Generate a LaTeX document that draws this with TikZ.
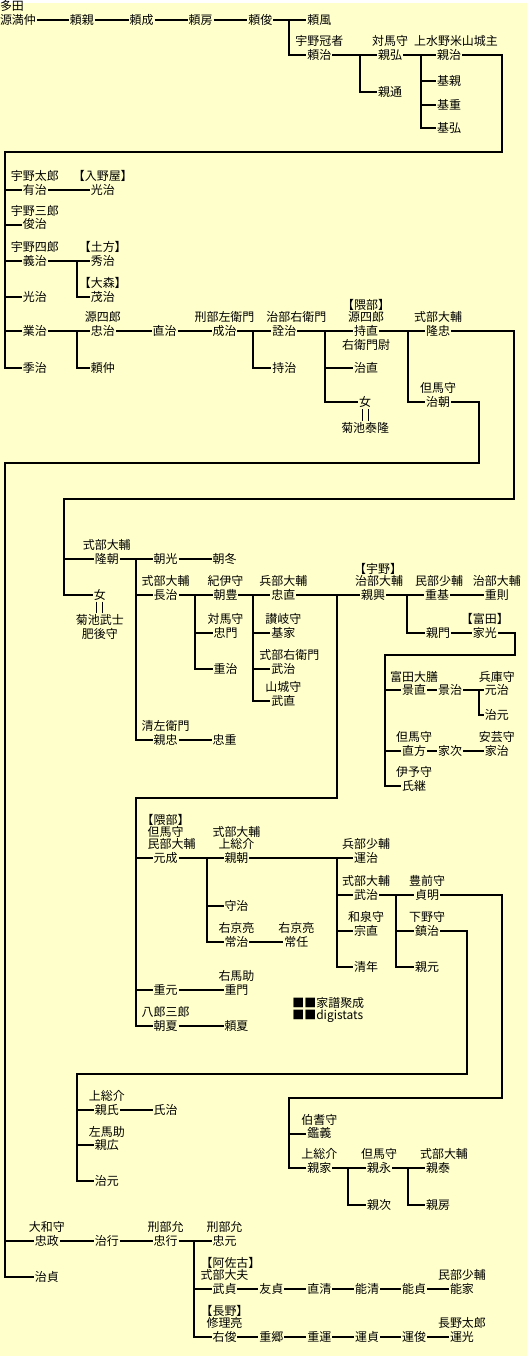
\documentclass[tikz,border=0pt]{standalone}
\usepackage{fontspec}
\setmainfont{Noto Sans CJK JP}
\usetikzlibrary{calc}
\definecolor{bgy}{HTML}{FFFFCC}
\newcommand\famln[3]{\draw (#1.east -| #2) |- (#3.west);}
\newcommand\twig[2]{\draw (#2.west -| #1) -- (#2.west);}
\begin{document}
\begin{tikzpicture}[x=1pt,y=-1pt,
  every node/.style={inner sep=0pt,text height=10.5pt,text depth=1.5pt,font=\fontsize{12pt}{12pt}\selectfont},
  every label/.style={inner sep=0pt,text height=10.5pt,text depth=1.5pt,font=\fontsize{12pt}{12pt}\selectfont},
  label distance=0pt,
  ln/.style={line width=2pt,line join=miter},
  dbl/.style={line width=0.9pt}]
\fill[bgy] (0,0) rectangle (528,1356);
\begin{scope}[ln]
% ---------- row 1
\node (a0) at (18,17) [label={[xshift=-6pt]above:多田}] {源満仲};
\node (a1) at (82,17) {頼親};
\node (a2) at (142,17) {頼成};
\node (a3) at (201,17) {頼房};
\node (a4) at (261,17) {頼俊};
\node (a5) at (320,17) {頼風};
\node (a6) at (320,52) [label=above:宇野冠者] {頼治};
\node (a7) at (391,52) [label=above:対馬守] {親弘};
\node (a8) at (391,89) {親通};
\node (a9) at (450,52) [label={[xshift=7pt]above:上水野米山城主}] {親治};
\node (a10) at (450,78) {基親};
\node (a11) at (450,102) {基重};
\node (a12) at (450,125) {基弘};
\coordinate (v290) at (290,0);
\coordinate (v361) at (361,0);
\coordinate (v422) at (422,0);
\draw (a0.east) -- (a1.west); \draw (a1.east) -- (a2.west);
\draw (a2.east) -- (a3.west); \draw (a3.east) -- (a4.west);
\draw (a4.east) -- (a5.west); \famln{a4}{v290}{a6}
\draw (a6.east) -- (a7.west); \famln{a6}{v361}{a8}
\draw (a7.east) -- (a9.west); \twig{v422}{a10}\twig{v422}{a11}\famln{a7}{v422}{a12}
% ---------- children of 親治
\node (c1) at (35,187) [label=above:宇野太郎] {有治};
\node (c2) at (103,187) [label=above:【入野屋】] {光治};
\node (c3) at (35,222) [label=above:宇野三郎] {俊治};
\node (c4) at (35,259) [label=above:宇野四郎] {義治};
\node (c5) at (103,259) [label=above:【土方】] {秀治};
\node (c6) at (103,295) [label=above:【大森】] {茂治};
\node (c7) at (35,295) {光治};
\node (c8) at (35,329) {業治};
\node (c9) at (103,329) [label=above:源四郎] {忠治};
\node (c10) at (103,366) {頼仲};
\node (c11) at (35,366) {季治};
\node (c12) at (165,329) {直治};
\node (c13) at (225,329) [label=above:刑部左衛門] {成治};
\node (c14) at (285,329) [label={[xshift=12pt]above:治部右衛門}] {詮治};
\node (c15) at (285,366) {持治};
\node (c16) at (367,329) [label=above:源四郎,label={[yshift=12pt]above:【隈部】},label=below:右衛門尉] {持直};
\node (c17) at (367,366) {治直};
\node (c18) at (366,400) {女};
\node (c19) at (366,426) {菊池泰隆};
\node (c20) at (439,329) [label=above:式部大輔] {隆忠};
\node (c21) at (439,400) [label=above:但馬守] {治朝};
\coordinate (R1a) at (503,149); \coordinate (R1b) at (5,149);
\draw (a9.east) -| (R1a) -- (R1b) |- (c11.west);
\twig{R1b}{c1}\twig{R1b}{c3}\twig{R1b}{c4}\twig{R1b}{c7}\twig{R1b}{c8}
\draw (c1.east) -- (c2.west);
\coordinate (v77) at (77,0);
\draw (c4.east) -- (c5.west); \famln{c4}{v77}{c6}
\draw (c8.east) -- (c9.west); \famln{c8}{v77}{c10}
\draw (c9.east) -- (c12.west); \draw (c12.east) -- (c13.west);
\coordinate (v254) at (254,0); \coordinate (v326) at (326,0); \coordinate (v409) at (409,0);
\draw (c13.east) -- (c14.west); \famln{c13}{v254}{c15}
\draw (c14.east) -- (c16.west); \twig{v326}{c17}\famln{c14}{v326}{c18}
\draw (c16.east) -- (c20.west); \famln{c16}{v409}{c21}
% ---------- children of 隆忠
\node (d1) at (107,557) [label=above:式部大輔] {隆朝};
\node (d2) at (166,557) {朝光};
\node (d3) at (225,557) {朝冬};
\node (d4) at (100,593) {女};
\node (d5) at (100,618) [label=below:肥後守] {菊池武士};
\node (d6) at (166,593) [label=above:式部大輔] {長治};
\node (d7) at (226,593) [label=above:紀伊守] {朝豊};
\node (d8) at (226,631) [label=above:対馬守] {忠門};
\node (d9) at (226,667) {重治};
\node (d10) at (284,593) [label=above:兵部大輔] {忠直};
\node (d11) at (284,631) [label=above:讃岐守] {基家};
\node (d12) at (284,667) [label={[xshift=6pt]above:式部右衛門}] {武治};
\node (d13) at (284,700) [label=above:山城守] {武直};
\node (d14) at (166,739) [label=above:清左衛門] {親忠};
\node (d15) at (225,739) {忠重};
\node (d16) at (374,593) [label={[xshift=6pt]above:治部大輔},label={[xshift=5pt,yshift=12pt]above:【宇野】}] {親興};
\node (d17) at (438,593) [label={[xshift=2pt]above:民部少輔}] {重基};
\node (d18) at (498,593) [label=above:治部大輔] {重則};
\node (d19) at (439,631) {親門};
\node (d20) at (486,631) [label=above:【富田】] {家光};
\coordinate (R2a) at (515,497); \coordinate (R2b) at (64,497);
\draw (c20.east) -| (R2a) -- (R2b) |- (d4.west);
\twig{R2b}{d1}
\coordinate (v136) at (136,0); \coordinate (v195) at (195,0); \coordinate (v408) at (408,0);
\draw (d1.east) -- (d2.west); \draw (d2.east) -- (d3.west);
\twig{v136}{d6}\famln{d1}{v136}{d14}
\draw (d6.east) -- (d7.west); \twig{v195}{d8}\famln{d6}{v195}{d9}
\draw (d7.east) -- (d10.west); \twig{v254}{d11}\twig{v254}{d12}\famln{d7}{v254}{d13}
\draw (d14.east) -- (d15.west);
\draw (d10.east) -- (d16.west);
\draw (d16.east) -- (d17.west); \draw (d17.east) -- (d18.west);
\famln{d16}{v408}{d19}
\draw (d19.east) -- (d20.west);
% ---------- 富田
\node (e1) at (415,689) [label=above:富田大膳] {景直};
\node (e2) at (451,689) {景治};
\node (e3) at (498,689) [label=above:兵庫守] {元治};
\node (e4) at (498,714) {治元};
\node (e5) at (415,750) [label=above:但馬守] {直方};
\node (e6) at (451,750) {家次};
\node (e7) at (498,750) [label=above:安芸守] {家治};
\node (e8) at (415,785) [label=above:伊予守] {氏継};
\coordinate (R4a) at (516,653); \coordinate (R4b) at (386,653);
\draw (d20.east) -| (R4a) -- (R4b) |- (e8.west);
\twig{R4b}{e1}\twig{R4b}{e5}
\coordinate (v480) at (480,0);
\draw (e1.east) -- (e2.west); \draw (e2.east) -- (e3.west); \famln{e2}{v480}{e4}
\draw (e5.east) -- (e6.west); \draw (e6.east) -- (e7.west);
% ---------- 隈部
\node (f1) at (166,857) [label={[xshift=6pt]above:民部大輔},label={[yshift=12pt]above:但馬守},label={[yshift=24pt]above:【隈部】}] {元成};
\node (f2) at (237,857) [label=above:上総介,label={[yshift=12pt]above:式部大輔}] {親朝};
\node (f3) at (237,905) {守治};
\node (f4) at (237,941) [label=above:右京亮] {常治};
\node (f5) at (297,941) [label=above:右京亮] {常任};
\node (f6) at (367,857) [label=above:兵部少輔] {運治};
\node (f7) at (367,894) [label=above:式部大輔] {武治};
\node (f8) at (367,930) [label=above:和泉守] {宗直};
\node (f9) at (367,966) {清年};
\node (f10) at (428,894) [label=above:豊前守] {貞明};
\node (f11) at (428,930) [label=above:下野守] {鎮治};
\node (f12) at (428,966) {親元};
\node (f13) at (166,989) {重元};
\node (f14) at (237,989) [label=above:右馬助] {重門};
\node (f15) at (166,1025) [label=above:八郎三郎] {朝夏};
\node (f16) at (237,1025) {頼夏};
\coordinate (R7a) at (338,797); \coordinate (R7b) at (136,797);
\draw (d10.east -| R7a) -- (R7a) -- (R7b) |- (f15.west);
\twig{R7b}{f1}\twig{R7b}{f13}
\coordinate (v207) at (207,0); \coordinate (v338) at (338,0); \coordinate (v397) at (397,0);
\draw (f1.east) -- (f2.west); \twig{v207}{f3}\famln{f1}{v207}{f4}
\draw (f4.east) -- (f5.west);
\draw (f2.east) -- (f6.west); \twig{v338}{f7}\twig{v338}{f8}\famln{f2}{v338}{f9}
\draw (f7.east) -- (f10.west); \twig{v397}{f11}\famln{f7}{v397}{f12}
\draw (f13.east) -- (f14.west); \draw (f15.east) -- (f16.west);
\node[anchor=west] (lg1) at (292,1002) {■■家譜聚成};
\node[anchor=west] (lg2) at (292,1014) {■■digistats};
% ---------- 貞明 line
\node (g1) at (320,1133) [label=above:伯耆守] {鑑義};
\node (g2) at (320,1168) [label=above:上総介] {親家};
\node (g3) at (380,1168) [label=above:但馬守] {親永};
\node (g4) at (380,1205) {親次};
\node (g5) at (439,1168) [label={[xshift=6pt]above:式部大輔}] {親泰};
\node (g6) at (439,1205) {親房};
\coordinate (R5a) at (503,1097); \coordinate (R5b) at (290,1097);
\draw (f10.east) -| (R5a) -- (R5b) |- (g2.west);
\twig{R5b}{g1}
\coordinate (v349) at (349,0);
\draw (g2.east) -- (g3.west); \famln{g2}{v349}{g4}
\draw (g3.east) -- (g5.west); \famln{g3}{v409}{g6}
% ---------- 鎮治 line
\node (h1) at (107,1109) [label=above:上総介] {親氏};
\node (h2) at (166,1109) {氏治};
\node (h3) at (107,1145) [label=above:左馬助] {親広};
\node (h4) at (107,1181) {治元};
\coordinate (R6a) at (468,1073); \coordinate (R6b) at (77,1073);
\draw (f11.east) -| (R6a) -- (R6b) |- (h4.west);
\twig{R6b}{h1}\twig{R6b}{h3}
\draw (h1.east) -- (h2.west);
% ---------- 治朝 line
\node (i1) at (47,1241) [label=above:大和守] {忠政};
\node (i2) at (107,1241) {治行};
\node (i3) at (166,1241) [label=above:刑部允] {忠行};
\node (i4) at (225,1241) [label=above:刑部允] {忠元};
\node (i5) at (225,1289) [label=above:式部大夫,label={[xshift=6pt,yshift=12pt]above:【阿佐古】}] {武貞};
\node (i6) at (272,1289) {友貞};
\node (i7) at (320,1289) {直清};
\node (i8) at (368,1289) {能清};
\node (i9) at (415,1289) {能貞};
\node (i10) at (463,1289) [label=above:民部少輔] {能家};
\node (i11) at (225,1337) [label=above:修理亮,label={[yshift=12pt]above:【長野】}] {右俊};
\node (i12) at (272,1337) {重郷};
\node (i13) at (320,1337) {重運};
\node (i14) at (368,1337) {運貞};
\node (i15) at (415,1337) {運俊};
\node (i16) at (463,1337) [label=above:長野太郎] {運光};
\node (i17) at (47,1277) {治貞};
\coordinate (R3a) at (480,461); \coordinate (R3b) at (5,461);
\draw (c21.east) -| (R3a) -- (R3b) |- (i17.west);
\twig{R3b}{i1}
\coordinate (v194) at (194,0);
\draw (i1.east) -- (i2.west); \draw (i2.east) -- (i3.west);
\draw (i3.east) -- (i4.west); \twig{v194}{i5}\famln{i3}{v194}{i11}
\draw (i5.east) -- (i6.west); \draw (i6.east) -- (i7.west); \draw (i7.east) -- (i8.west);
\draw (i8.east) -- (i9.west); \draw (i9.east) -- (i10.west);
\draw (i11.east) -- (i12.west); \draw (i12.east) -- (i13.west); \draw (i13.east) -- (i14.west);
\draw (i14.east) -- (i15.west); \draw (i15.east) -- (i16.west);
\end{scope}
% double marriage lines
\draw[dbl] ([xshift=-3pt]c18.south) -- ([xshift=-3pt]c19.north);
\draw[dbl] ([xshift=3pt]c18.south) -- ([xshift=3pt]c19.north);
\draw[dbl] ([xshift=-3pt]d4.south) -- ([xshift=-3pt]d5.north);
\draw[dbl] ([xshift=3pt]d4.south) -- ([xshift=3pt]d5.north);
\end{tikzpicture}
\end{document}
